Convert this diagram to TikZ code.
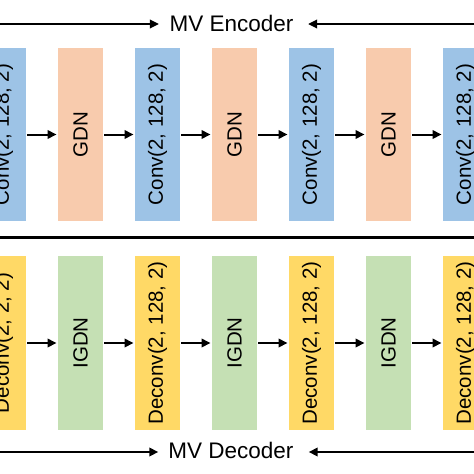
\documentclass[tikz,border=0pt]{standalone}
\usepackage{fontspec}
\setmainfont{Liberation Sans}
\usetikzlibrary{arrows.meta}
\definecolor{cblue}{HTML}{9DC3E6}
\definecolor{csalmon}{HTML}{F8CBAD}
\definecolor{cyellow}{HTML}{FFD966}
\definecolor{cgreen}{HTML}{C5E0B4}
\tikzset{
  blockbox/.style={rotate=90, inner sep=0pt, outer sep=0pt, minimum width=173pt, minimum height=45pt,
    font=\fontsize{20.5}{24}\selectfont, text=black},
  convbox/.style={blockbox, fill=cblue},
  gdnbox/.style={blockbox, fill=csalmon},
  deconvbox/.style={blockbox, fill=cyellow, minimum width=174pt},
  igdnbox/.style={blockbox, fill=cgreen, minimum width=174pt},
  flow/.style={line width=2pt, -{Triangle[length=9pt,width=8.5pt]}, shorten <=1pt, shorten >=1.5pt},
  titletext/.style={inner sep=0pt, anchor=base, font=\fontsize{22.5}{26}\selectfont},
  sideline/.style={line width=2pt, -{Triangle[length=9pt,width=8.5pt]}},
  sepline/.style={line width=3pt}
}
\begin{document}
\begin{tikzpicture}[x=1pt,y=-1pt]
\useasboundingbox (0,0) rectangle (474,474);
\clip (0,0) rectangle (474,474);
\fill[white] (0,0) rectangle (474,474);
% encoder
\node[convbox] (e1) at (3.5,134.5) {Conv(2, 128, 2)};
\node[gdnbox]  (e2) at (80.5,134.5) {GDN};
\node[convbox] (e3) at (157.5,134.5) {Conv(2, 128, 2)};
\node[gdnbox]  (e4) at (234.5,134.5) {GDN};
\node[convbox] (e5) at (311.5,134.5) {Conv(2, 128, 2)};
\node[gdnbox]  (e6) at (388.5,134.5) {GDN};
\node[convbox] (e7) at (465.5,134.5) {Conv(2, 128, 2)};
\foreach \a/\b in {e1/e2,e2/e3,e3/e4,e4/e5,e5/e6,e6/e7} \draw[flow] (\a) -- (\b);
% decoder
\node[deconvbox] (d1) at (3.5,343) {Deconv(2, 2, 2)};
\node[igdnbox]   (d2) at (80.5,343) {IGDN};
\node[deconvbox] (d3) at (157.5,343) {Deconv(2, 128, 2)};
\node[igdnbox]   (d4) at (234.5,343) {IGDN};
\node[deconvbox] (d5) at (311.5,343) {Deconv(2, 128, 2)};
\node[igdnbox]   (d6) at (388.5,343) {IGDN};
\node[deconvbox] (d7) at (465.5,343) {Deconv(2, 128, 2)};
\foreach \a/\b in {d1/d2,d2/d3,d3/d4,d4/d5,d5/d6,d6/d7} \draw[flow] (\a) -- (\b);
% separator
\coordinate (sL) at (0,237.5);
\coordinate (sR) at (474,237.5);
\draw[sepline] (sL) -- (sR);
% titles
\node[titletext] (enc) at (231.5,31) {MV Encoder};
\coordinate (eL) at (0,24);
\coordinate (eR) at (474,24);
\draw[sideline, shorten >=10.5pt] (eL) -- (eL -| enc.west);
\draw[sideline, shorten >=14.5pt] (eR) -- (eR -| enc.east);
\node[titletext] (dec) at (231,458) {MV Decoder};
\coordinate (dL) at (0,452);
\coordinate (dR) at (474,452);
\draw[sideline, shorten >=10pt] (dL) -- (dL -| dec.west);
\draw[sideline, shorten >=15pt] (dR) -- (dR -| dec.east);
\end{tikzpicture}
\end{document}
